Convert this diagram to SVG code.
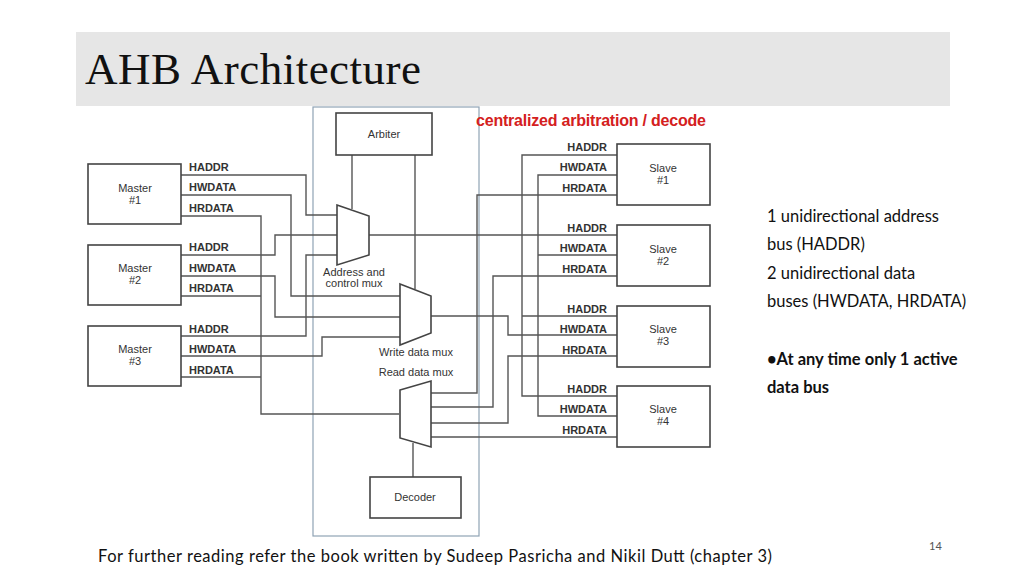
<svg xmlns="http://www.w3.org/2000/svg" width="1024" height="578" viewBox="0 0 1024 578">
<style>
.b{fill:#fff;stroke:#444;stroke-width:1.6}
.w{fill:none;stroke:#555;stroke-width:1.4}
.l{font-family:"Liberation Sans",Arial,sans-serif;font-size:11px;font-weight:bold;fill:#333}
.n{font-family:"Liberation Sans",Arial,sans-serif;font-size:11px;fill:#333;text-anchor:middle}
.r{font-family:Lato,"Open Sans",sans-serif;font-size:16.5px;fill:#111}
</style>
<rect width="1024" height="578" fill="#fff"/>
<rect x="76" y="32" width="874" height="74" fill="#e6e6e6"/>
<text x="85" y="84" font-family="Liberation Serif,serif" font-size="45" fill="#111" textLength="336">AHB Architecture</text>
<rect x="313" y="107" width="166" height="429" fill="none" stroke="#8fa3b5" stroke-width="1.2"/>
<text x="476" y="126" font-family="Liberation Sans Narrow,Liberation Sans,sans-serif" font-size="16" font-weight="bold" fill="#d42020" textLength="230">centralized arbitration / decode</text>
<g id="connectors" class="w">
<polyline points="181,175 306,175 306,215 337,215"/>
<polyline points="181,195 291,195 291,296 400,296"/>
<polyline points="181,216 261,216 261,414 399,414"/>
<polyline points="181,255 275,255 275,235 337,235"/>
<polyline points="181,276 275,276 275,317 400,317"/>
<line x1="181" y1="296" x2="261" y2="296"/>
<polyline points="181,336 306,336 306,255 337,255"/>
<polyline points="181,356 322,356 322,337 400,337"/>
<line x1="181" y1="377" x2="261" y2="377"/>
<line x1="352" y1="155" x2="352" y2="209"/>
<line x1="415" y1="155" x2="415" y2="289"/>
<line x1="413" y1="443" x2="413" y2="477"/>
<line x1="369" y1="235" x2="617" y2="235"/>
<polyline points="617,155 522,155 522,396 617,396"/>
<line x1="522" y1="316" x2="617" y2="316"/>
<polyline points="617,175 538,175 538,416 617,416"/>
<line x1="538" y1="255" x2="617" y2="255"/>
<polyline points="431,316 508,316 508,335 617,335"/>
<polyline points="617,195 477,195 477,393 431,393"/>
<polyline points="617,276 493,276 493,407 431,407"/>
<polyline points="617,356 508,356 508,423 431,423"/>
<line x1="431" y1="437" x2="617" y2="437"/>
</g>
<g id="labels">
<text class="l" x="189" y="171">HADDR</text><text class="l" x="189" y="191">HWDATA</text><text class="l" x="189" y="212">HRDATA</text>
<text class="l" x="189" y="251">HADDR</text><text class="l" x="189" y="272">HWDATA</text><text class="l" x="189" y="292">HRDATA</text>
<text class="l" x="189" y="333">HADDR</text><text class="l" x="189" y="353">HWDATA</text><text class="l" x="189" y="374">HRDATA</text>
<g text-anchor="end">
<text class="l" x="607" y="151">HADDR</text><text class="l" x="607" y="171">HWDATA</text><text class="l" x="607" y="192">HRDATA</text>
<text class="l" x="607" y="232">HADDR</text><text class="l" x="607" y="252">HWDATA</text><text class="l" x="607" y="273">HRDATA</text>
<text class="l" x="607" y="313">HADDR</text><text class="l" x="607" y="333">HWDATA</text><text class="l" x="607" y="354">HRDATA</text>
<text class="l" x="607" y="393">HADDR</text><text class="l" x="607" y="413">HWDATA</text><text class="l" x="607" y="434">HRDATA</text>
</g>
<text class="n" x="354" y="276">Address and</text><text class="n" x="354" y="287">control mux</text>
<text class="n" x="416" y="356">Write data mux</text><text class="n" x="416" y="376">Read data mux</text>
</g>
<g id="arbiter"><rect class="b" x="336" y="113" width="96" height="42"/><text class="n" x="384" y="138">Arbiter</text></g>
<g id="addrmux"><polygon class="b" points="337,205 369,216 369,255 337,265"/></g>
<g id="wmux"><polygon class="b" points="400,284 431,296 431,333 400,345"/></g>
<g id="rmux"><polygon class="b" points="400,390 431,381 431,447 400,438"/></g>
<g id="decoder"><rect class="b" x="370" y="477" width="91" height="41"/><text class="n" x="415" y="501">Decoder</text></g>
<g id="m1"><rect class="b" x="88" y="164" width="93" height="60"/><text class="n" x="135" y="192">Master</text><text class="n" x="135" y="204">#1</text></g>
<g id="m2"><rect class="b" x="88" y="245" width="93" height="60"/><text class="n" x="135" y="272">Master</text><text class="n" x="135" y="284">#2</text></g>
<g id="m3"><rect class="b" x="88" y="326" width="93" height="60"/><text class="n" x="135" y="353">Master</text><text class="n" x="135" y="365">#3</text></g>
<g id="s1"><rect class="b" x="617" y="144" width="93" height="61"/><text class="n" x="663" y="172">Slave</text><text class="n" x="663" y="184">#1</text></g>
<g id="s2"><rect class="b" x="617" y="225" width="93" height="61"/><text class="n" x="663" y="253">Slave</text><text class="n" x="663" y="265">#2</text></g>
<g id="s3"><rect class="b" x="617" y="306" width="93" height="61"/><text class="n" x="663" y="333">Slave</text><text class="n" x="663" y="345">#3</text></g>
<g id="s4"><rect class="b" x="617" y="386" width="93" height="61"/><text class="n" x="663" y="413">Slave</text><text class="n" x="663" y="425">#4</text></g>
<text class="r" x="767" y="222">1 unidirectional address</text>
<text class="r" x="767" y="250">bus (HADDR)</text>
<text class="r" x="767" y="279"> 2 unidirectional data</text>
<text class="r" x="767" y="307">buses (HWDATA, HRDATA)</text>
<text class="r" x="767" y="365" font-weight="bold">•At any time only 1 active</text>
<text class="r" x="767" y="393" font-weight="bold">data bus</text>
<text class="r" x="98" y="562" font-size="17" textLength="674">For further reading refer the book written by Sudeep Pasricha and Nikil Dutt (chapter 3)</text>
<text x="929" y="550" font-family="Lato,sans-serif" font-size="11" fill="#555">14</text>
</svg>
